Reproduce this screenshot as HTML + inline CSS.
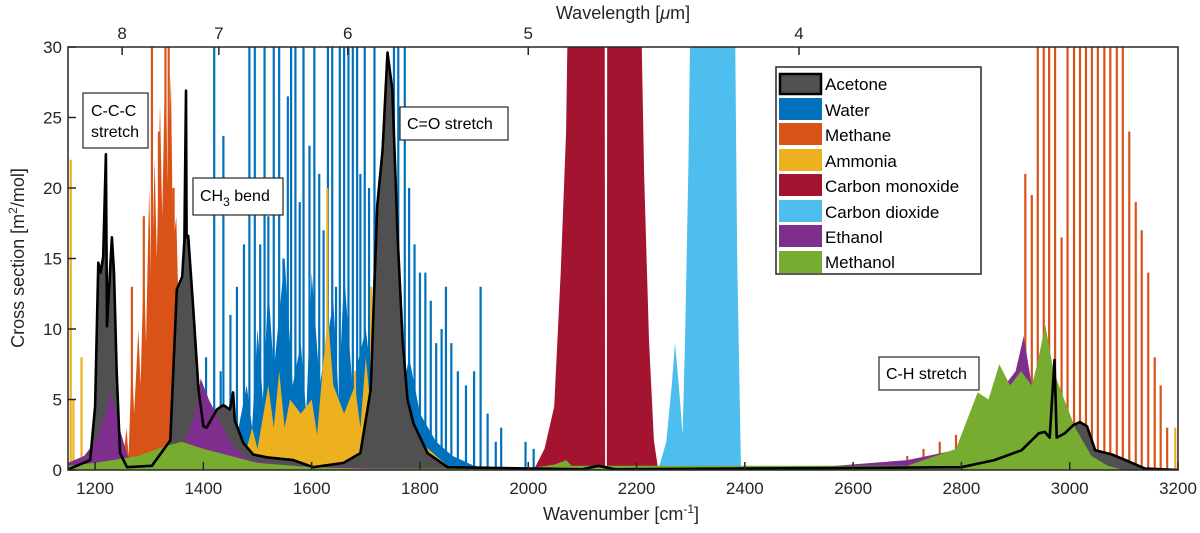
<!DOCTYPE html>
<html><head><meta charset="utf-8">
<style>
body{margin:0;background:#fff;}
svg{display:block;font-family:"Liberation Sans",Arial,sans-serif;}
</style></head>
<body>
<svg id="chart" width="1200" height="533" viewBox="0 0 1200 533" xmlns="http://www.w3.org/2000/svg">
<defs><clipPath id="clip"><rect x="68" y="47" width="1110" height="423"/></clipPath></defs>
<g id="plot" clip-path="url(#clip)"></g>
<g id="axes"></g>
</svg>
<script>
// ---- data (wavenumber cm^-1, cross section m^2/mol) ----
const xTicks = [1200,1400,1600,1800,2000,2200,2400,2600,2800,3000,3200];
const yTicks = [0,5,10,15,20,25,30];
const topTicks = [8,7,6,5,4];
const acetone = [[1150,0],[1154,0.1],[1191,0.7],[1200,4.5],[1206,14.7],[1210,14],[1215,15.1],[1220,22.4],[1222,10.2],[1231,16.5],[1235,14],[1240,6.9],[1246,1.2],[1259,0.2],[1305,0.3],[1339,2.1],[1351,12.8],[1361,13.7],[1365,16.3],[1368,26.9],[1369,16.5],[1372,16.6],[1381,11.6],[1391,5.7],[1400,3.1],[1406,3],[1425,4.3],[1437,4.6],[1449,4.3],[1455,5.5],[1458,3.5],[1474,1.9],[1492,1.1],[1517,0.9],[1566,0.7],[1603,0.2],[1659,0.5],[1690,1.2],[1709,5.7],[1721,18.7],[1731,22.7],[1740,29.6],[1749,27],[1759,16.3],[1768,9.2],[1777,5],[1788,3.3],[1814,1.2],[1851,0.2],[2100,0.05],[2130,0.3],[2160,0.05],[2800,0.2],[2861,0.7],[2911,1.4],[2943,2.6],[2954,2.7],[2963,2.3],[2972,7.8],[2976,2.3],[2991,2.6],[3007,3.2],[3019,3.4],[3032,3.1],[3047,1.4],[3078,1.1],[3109,0.6],[3139,0.1],[3200,0]];
const waterLines = [[1405,8],[1420,30],[1432,7],[1437,23.7],[1450,11],[1462,13],[1475,16],[1485,30],[1495,30],[1505,16],[1513,30],[1520,18],[1530,30],[1540,30],[1548,15],[1556,26.5],[1562,30],[1570,30],[1578,19],[1585,30],[1596,23],[1605,30],[1614,21],[1622,17],[1630,30],[1638,30],[1645,13],[1652,30],[1660,30],[1668,30],[1676,30],[1684,30],[1690,21],[1698,30],[1706,20],[1716,30],[1723,18],[1752,30],[1760,30],[1772,30],[1780,20],[1790,16],[1800,14],[1810,14],[1820,12],[1830,9],[1840,10],[1848,13],[1858,9],[1870,7],[1885,6],[1900,7],[1912,13],[1925,4],[1940,2],[1950,3],[1995,2],[2010,1.5]];
const waterBand = [[1395,0],[1410,2],[1420,1],[1440,4],[1460,2],[1480,6],[1490,3],[1500,10],[1510,5],[1520,13],[1530,7],[1550,15],[1565,6],[1580,9],[1590,4],[1600,14],[1615,6],[1640,12],[1650,5],[1660,14],[1675,6],[1700,10],[1715,5],[1740,9],[1760,4],[1780,8],[1800,4],[1830,2],[1860,1],[1900,0.3],[1950,0]];
const methaneBand = [[1250,0],[1258,3],[1262,1],[1268,8],[1272,4],[1280,10],[1284,6],[1290,15],[1294,9],[1300,20],[1304,12],[1310,22],[1314,15],[1320,26],[1324,18],[1330,30],[1334,20],[1340,28],[1344,16],[1350,18],[1355,10],[1360,12],[1366,5],[1375,6],[1390,2],[1400,0]];
const methaneLines = [[1268,13],[1290,18],[1305,30],[1318,24],[1330,30],[1336,30],[1345,20],[2700,1],[2730,1.5],[2760,2],[2790,2.5],[2820,3],[2850,3.5],[2880,4],[2918,21],[2930,19.5],[2941,30],[2952,30],[2962,30],[2973,30],[2985,16.5],[2996,30],[3008,30],[3019,30],[3030,30],[3041,30],[3052,30],[3064,30],[3075,30],[3087,30],[3098,30],[3110,24],[3122,19],[3133,17],[3145,14],[3157,8],[3168,6],[3180,3]];
const ammoniaBand = [[1470,0],[1490,3],[1500,1.5],[1520,6],[1530,3],[1540,7],[1550,3],[1560,5],[1580,4],[1600,5],[1610,2.5],[1620,7],[1630,11],[1640,6],[1660,4],[1680,6],[1690,3],[1700,8],[1710,4],[1720,10],[1730,5],[1740,6],[1760,5],[1780,4],[1800,2],[1830,1],[1860,0]];
const ammoniaLines = [[1155,22],[1160,5],[1175,8],[1629,20],[1680,7],[1710,13],[3195,3]];
const coLobe1 = [[2010,0],[2030,1.5],[2048,4.5],[2060,14],[2070,24],[2076,40],[2141,40],[2142,0]];
const coLobe2 = [[2145,0],[2146,40],[2205,40],[2214,21],[2223,9.2],[2232,2.1],[2240,0]];
const co2 = [[2240,0],[2255,2],[2265,6],[2271,9],[2278,6],[2285,2.5],[2290,10],[2296,22],[2302,40],[2380,40],[2386,15],[2393,0]];
const ethanol = [[1150,0],[1150,0.5],[1180,1],[1200,2],[1215,3.5],[1230,5.5],[1245,3],[1260,1],[1280,0.5],[1350,1],[1370,2.5],[1385,4],[1395,6.5],[1410,5],[1430,3.5],[1450,2],[1480,0.8],[1550,0.3],[1800,0.1],[2500,0.1],[2700,0.7],[2800,1.5],[2850,3],[2880,6],[2900,7],[2915,9.5],[2930,6],[2945,8],[2955,10],[2965,8],[2975,5],[2990,2],[3020,0.5],[3060,0]];
const methanol = [[1150,0],[1150,0.3],[1200,0.5],[1280,1],[1330,1.7],[1360,2],[1400,1.5],[1450,1],[1500,0.5],[1600,0.2],[1700,0.1],[2000,0.1],[2050,0.4],[2070,0.7],[2080,0.3],[2700,0.3],[2790,1.5],[2810,3.5],[2830,5.5],[2850,5],[2870,7.5],[2890,6],[2910,7],[2930,6],[2940,7.5],[2955,10.3],[2970,7],[2990,5],[3010,3],[3040,1],[3070,0.3],[3100,0]];

const NS='http://www.w3.org/2000/svg';
const X0=68,X1=1178,Y0=470,Y1=47,WMIN=1150,WMAX=3200,VMAX=30;
function xs(w){return X0+(w-WMIN)/(WMAX-WMIN)*(X1-X0);}
function ys(v){return Y0-v/VMAX*(Y0-Y1);}
const plot=document.getElementById('plot'), axes=document.getElementById('axes');
function mk(tag,attrs,parent){const e=document.createElementNS(NS,tag);for(const k in attrs)e.setAttribute(k,attrs[k]);parent.appendChild(e);return e;}
function area(pts,color,name){
  let d='M'+xs(pts[0][0])+','+ys(0);
  pts.forEach(p=>{d+=' L'+xs(p[0]).toFixed(1)+','+ys(p[1]).toFixed(1);});
  d+=' L'+xs(pts[pts.length-1][0])+','+ys(0)+'Z';
  const e=mk('path',{d:d,fill:color},plot);
  
  
  return e;
}
function lines(pts,color,name){
  const g=mk('g',{},plot);
  
  
  pts.forEach(p=>{
    const l=mk('line',{x1:xs(p[0]),x2:xs(p[0]),y1:ys(0),y2:ys(Math.min(p[1],31)),stroke:color,'stroke-width':2.2},g);
    
    
  });
}
area(methaneBand,'#D95319','methane-band');
lines(methaneLines,'#D95319','methane-lines');
area(waterBand,'#0072BD','water-band');
lines(waterLines,'#0072BD','water-lines');
area(ammoniaBand,'#EDB120','ammonia-band');
lines(ammoniaLines,'#EDB120','ammonia-lines');
area(coLobe1,'#A2142F','co-p-branch');
area(coLobe2,'#A2142F','co-r-branch');
area(co2,'#4DBEEE','co2-band');
area(acetone,'#505050','acetone-fill');
area(ethanol,'#7E2F8E','ethanol-area');
area(methanol,'#77AC30','methanol-area');
let ad='';acetone.forEach((p,i)=>{ad+=(i?' L':'M')+xs(p[0]).toFixed(1)+','+ys(p[1]).toFixed(1);});
const al=mk('path',{d:ad,fill:'none',stroke:'#000','stroke-width':2.6,'stroke-linejoin':'round'},plot);



const box=mk('rect',{x:X0,y:Y1,width:X1-X0,height:Y0-Y1,fill:'none',stroke:'#262626','stroke-width':1.5},axes);


xTicks.forEach(t=>{
  mk('line',{x1:xs(t),x2:xs(t),y1:Y0,y2:Y0-8,stroke:'#262626','stroke-width':1.5},axes);
  const tx=mk('text',{x:xs(t),y:Y0+24,'text-anchor':'middle','font-size':17,fill:'#262626'},axes);
  tx.textContent=t;
  
  
});
yTicks.forEach(t=>{
  mk('line',{x1:X0,x2:X0+8,y1:ys(t),y2:ys(t),stroke:'#262626','stroke-width':1.5},axes);
  const tx=mk('text',{x:X0-6,y:ys(t)+6,'text-anchor':'end','font-size':17,fill:'#262626'},axes);
  tx.textContent=t;
  
  
});
topTicks.forEach(t=>{
  const x=xs(10000/t);
  mk('line',{x1:x,x2:x,y1:Y1,y2:Y1+8,stroke:'#262626','stroke-width':1.5},axes);
  const tx=mk('text',{x:x,y:Y1-8,'text-anchor':'middle','font-size':17,fill:'#262626'},axes);
  tx.textContent=t;
  
  
});
</script>
<svg style="position:absolute;left:0;top:0" width="1200" height="533">
<g font-family="Liberation Sans, Arial, sans-serif" fill="#262626">
<text x="621" y="520" font-size="18" text-anchor="middle">Wavenumber [cm<tspan dy="-7" font-size="12">-1</tspan><tspan dy="7">]</tspan></text>
<text x="623" y="19" font-size="18" text-anchor="middle">Wavelength [<tspan font-style="italic">μ</tspan>m]</text>
<text transform="translate(24,258) rotate(-90)" font-size="18" text-anchor="middle">Cross section [m<tspan dy="-7" font-size="12">2</tspan><tspan dy="7">/mol]</tspan></text>
</g>
<g font-family="Liberation Sans, Arial, sans-serif" font-size="16" fill="#000">
<g><rect x="83" y="93" width="65" height="55" fill="#fff" stroke="#262626" stroke-width="1.2"/><text x="91" y="116">C-C-C</text><text x="91" y="137">stretch</text></g>
<g><rect x="193" y="178" width="90" height="37" fill="#fff" stroke="#262626" stroke-width="1.2"/><text x="200" y="201">CH<tspan dy="5" font-size="12">3</tspan><tspan dy="-5"> bend</tspan></text></g>
<g><rect x="400" y="107" width="108" height="33" fill="#fff" stroke="#262626" stroke-width="1.2"/><text x="407" y="129">C=O stretch</text></g>
<g><rect x="879" y="357" width="100" height="33" fill="#fff" stroke="#262626" stroke-width="1.2"/><text x="886" y="379">C-H stretch</text></g>
</g>
<g font-family="Liberation Sans, Arial, sans-serif" font-size="17" fill="#000">
<rect x="776" y="67" width="205" height="207" fill="#fff" stroke="#262626" stroke-width="1.5"/>
<g><rect x="780" y="74" width="41" height="20" fill="#505050" stroke="#000" stroke-width="2.5"/><text x="825" y="90">Acetone</text></g>
<g><rect x="779" y="98" width="43" height="22" fill="#0072BD"/><text x="825" y="116">Water</text></g>
<g><rect x="779" y="123" width="43" height="22" fill="#D95319"/><text x="825" y="141">Methane</text></g>
<g><rect x="779" y="149" width="43" height="22" fill="#EDB120"/><text x="825" y="167">Ammonia</text></g>
<g><rect x="779" y="174" width="43" height="22" fill="#A2142F"/><text x="825" y="192">Carbon monoxide</text></g>
<g><rect x="779" y="200" width="43" height="22" fill="#4DBEEE"/><text x="825" y="218">Carbon dioxide</text></g>
<g><rect x="779" y="225" width="43" height="22" fill="#7E2F8E"/><text x="825" y="243">Ethanol</text></g>
<g><rect x="779" y="251" width="43" height="22" fill="#77AC30"/><text x="825" y="268">Methanol</text></g>
</g>
</svg>
</body></html>
